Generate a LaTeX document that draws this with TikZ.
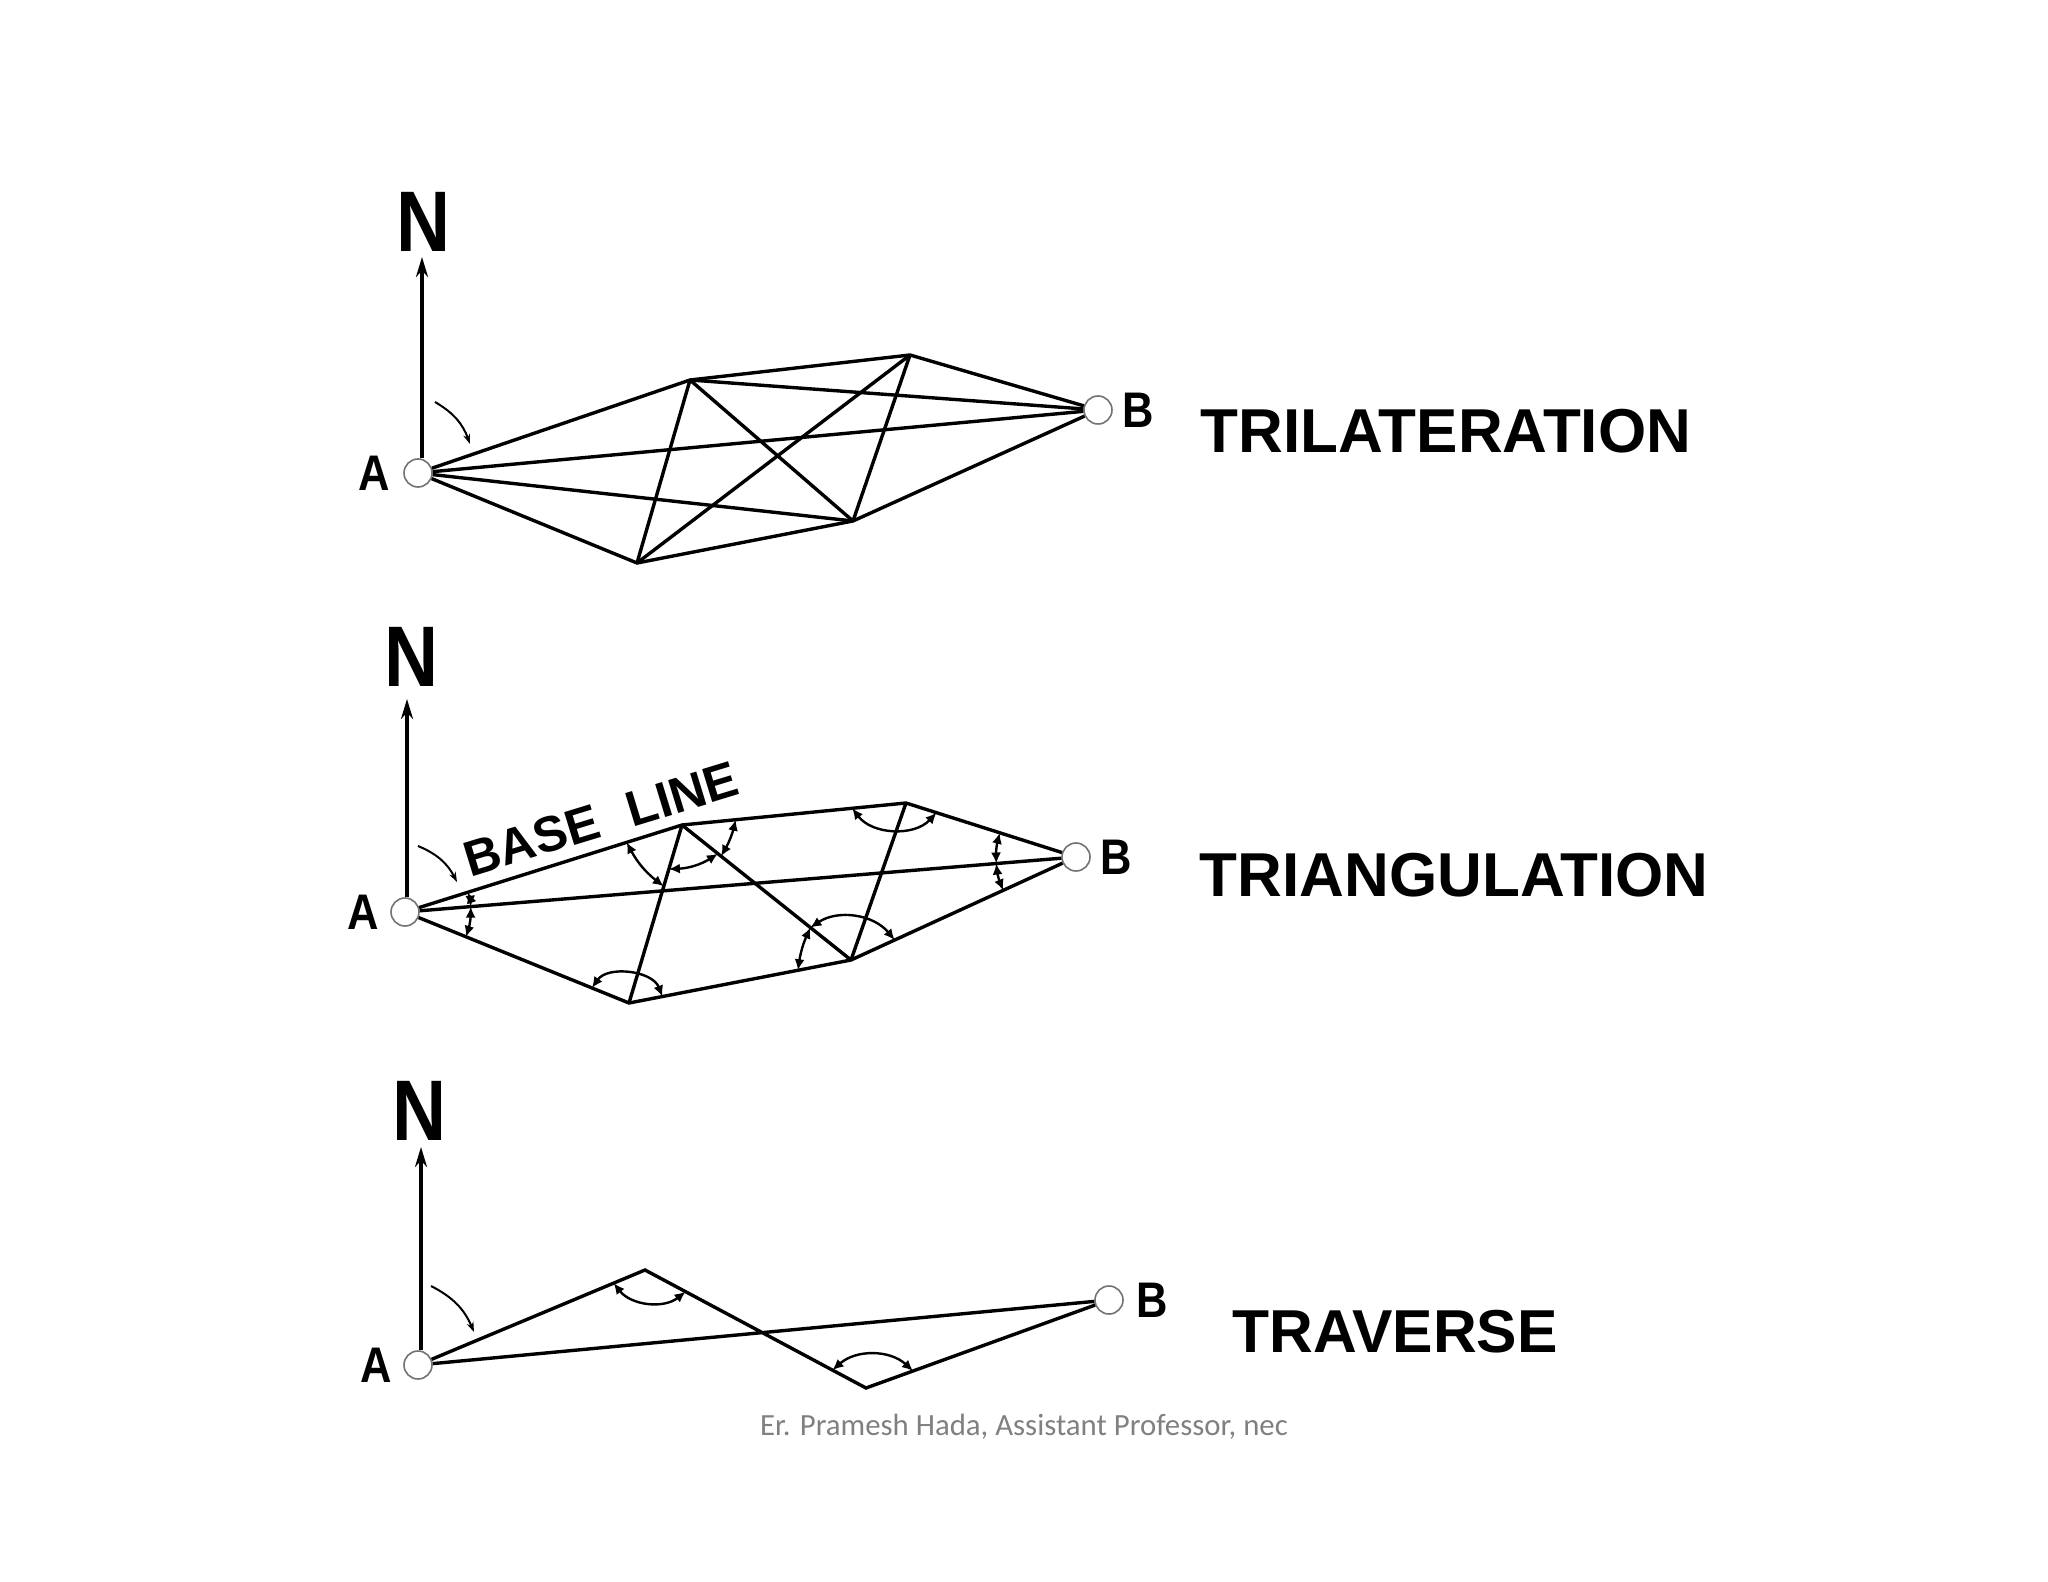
\documentclass[tikz,border=0pt]{standalone}
\usepackage{fontspec}
\setmainfont{Liberation Sans}
\newfontfamily\footfont{Carlito}
\newfontfamily\narrowfont[FakeStretch=0.87]{Liberation Sans}
\usetikzlibrary{arrows.meta, positioning, calc}

\begin{document}
\begin{tikzpicture}[
    x=0.5pt, y=-0.5pt,
    station/.style={circle, draw=black!55, fill=white, line width=0.8pt, minimum size=14pt, inner sep=0pt},
    stationlabel/.style={font=\narrowfont\fontsize{25}{25}\selectfont\bfseries, inner sep=0pt},
    northlabel/.style={font=\narrowfont\fontsize{43}{43}\selectfont\bfseries, inner sep=0pt},
    title/.style={font=\fontsize{31}{31}\selectfont\bfseries, inner sep=0pt},
    leg/.style={line width=1.7pt},
    northarrow/.style={-{Stealth[length=10pt, width=6pt]}, line width=2pt},
    bearing/.style={-{Stealth[length=5pt, width=3.5pt]}, line width=1pt},
    angmark/.style={{Latex[length=5.5pt, width=5pt]}-{Latex[length=5.5pt, width=5pt]}, line width=1.2pt}
]
    \useasboundingbox (0,0) rectangle (2048,1582);

    % trilateration
    \node[station] (triA) at (418,473) {};
    \node[station] (triB) at (1098,410) {};
    \coordinate (triP) at (690,380);
    \coordinate (triQ) at (910,355);
    \coordinate (triR) at (853,521);
    \coordinate (triS) at (637,563);
    \coordinate (triTip) at (422,257);
    \coordinate (triArcS) at (435,402);
    \coordinate (triArcE) at (470,444);
    \node[stationlabel, left=22pt of triA.center, anchor=center] (triLa) {A};
    \node[stationlabel, right=20pt of triB.center, anchor=center] (triLb) {B};
    \node[northlabel] (triN) at (424,222) {N};
    \node[title] (triTitle) at (1446,431) {TRILATERATION};

    \draw[northarrow] (triTip |- triA.north) -- (triTip);
    \draw[bearing] (triArcS) to[bend left=20] (triArcE);
    \draw[leg] (triA) -- (triP) -- (triQ) -- (triB) -- (triR) -- (triS) -- (triA);
    \draw[leg] (triA) -- (triB);
    \draw[leg] (triA) -- (triR);
    \draw[leg] (triP) -- (triB);
    \draw[leg] (triP) -- (triR);
    \draw[leg] (triP) -- (triS);
    \draw[leg] (triQ) -- (triR);
    \draw[leg] (triQ) -- (triS);

    % triangulation
    \node[station] (triaA) at (405,912) {};
    \node[station] (triaB) at (1076,857) {};
    \coordinate (triaP) at (682,825);
    \coordinate (triaQ) at (906,803);
    \coordinate (triaR) at (851,960);
    \coordinate (triaS) at (629,1003);
    \coordinate (triaTip) at (407,699);
    \coordinate (triaArcS) at (418,846);
    \coordinate (triaArcE) at (457,882);
    \node[stationlabel, left=21pt of triaA.center, anchor=center] (triaLa) {A};
    \node[stationlabel, right=20pt of triaB.center, anchor=center] (triaLb) {B};
    \node[northlabel] (triaN) at (412,657) {N};
    \node[title] (triaTitle) at (1454,875) {TRIANGULATION};
    \node[font=\fontsize{25}{25}\selectfont\bfseries, inner sep=0pt, rotate=17] (baseline) at (601,819) {BASE\hspace{0.35em} LINE};

    \draw[northarrow] (triaTip |- triaA.north) -- (triaTip);
    \draw[bearing] (triaArcS) to[bend left=20] (triaArcE);
    \draw[leg] (triaA) -- (triaP) -- (triaQ) -- (triaB) -- (triaR) -- (triaS) -- (triaA);
    \draw[leg] (triaA) -- (triaB);
    \draw[leg] (triaP) -- (triaR);
    \draw[leg] (triaP) -- (triaS);
    \draw[leg] (triaQ) -- (triaR);

    \draw[angmark] ($(triaA)!33pt!(triaP)$) to[bend left=8] ($(triaA)!33pt!(triaB)$);
    \draw[angmark] ($(triaA)!33pt!(triaB)$) to[bend left=8] ($(triaA)!33pt!(triaS)$);
    \draw[angmark] ($(triaB)!40pt!(triaQ)$) to[bend right=8] ($(triaB)!40pt!(triaA)$);
    \draw[angmark] ($(triaB)!40pt!(triaA)$) to[bend right=8] ($(triaB)!40pt!(triaR)$);
    \draw[angmark] ($(triaP)!29pt!(triaA)$) to[bend right=12] ($(triaP)!32pt!(triaS)$);
    \draw[angmark] ($(triaP)!23pt!(triaS)$) to[bend right=15] ($(triaP)!23pt!(triaR)$);
    \draw[angmark] ($(triaP)!27pt!(triaQ)$) to[bend left=8] ($(triaP)!25pt!(triaR)$);
    \draw[angmark] ($(triaQ)!27pt!(triaP)$) to[bend right=50] ($(triaQ)!16pt!(triaB)$);
    \draw[angmark] ($(triaR)!27pt!(triaS)$) to[bend left=8] ($(triaR)!26pt!(triaP)$);
    \draw[angmark] ($(triaR)!26pt!(triaP)$) to[bend left=42] ($(triaR)!24pt!(triaB)$);
    \draw[angmark] ($(triaS)!20pt!(triaA)$) to[bend left=62] ($(triaS)!17pt!(triaR)$);

    % traverse
    \node[station] (travA) at (418,1365) {};
    \node[station] (travB) at (1109,1300) {};
    \coordinate (travP) at (645,1270);
    \coordinate (travQ) at (866,1388);
    \coordinate (travTip) at (421,1147);
    \coordinate (travArcS) at (431,1286);
    \coordinate (travArcE) at (474,1332);
    \node[stationlabel, left=21pt of travA.center, anchor=center] (travLa) {A};
    \node[stationlabel, right=21.5pt of travB.center, anchor=center] (travLb) {B};
    \node[northlabel] (travN) at (420,1111) {N};
    \node[title, font=\fontsize{30.3}{30.3}\selectfont\bfseries] (travTitle) at (1395,1332) {TRAVERSE};

    \draw[northarrow] (travTip |- travA.north) -- (travTip);
    \draw[bearing] (travArcS) to[bend left=20] (travArcE);
    \draw[leg] (travA) -- (travP) -- (travQ) -- (travB) -- (travA);

    \draw[angmark] ($(travP)!17pt!(travA)$) to[bend right=45] ($(travP)!23pt!(travQ)$);
    \draw[angmark] ($(travQ)!19pt!(travP)$) to[bend left=42] ($(travQ)!25pt!(travB)$);

    % footer
    \node[font=\footfont\fontsize{15.4}{15.4}\selectfont, text=black!50, inner sep=0pt] (footer) at (1024,1427)
        {Er. Pramesh Hada, Assistant Professor, nec};
\end{tikzpicture}
\end{document}
